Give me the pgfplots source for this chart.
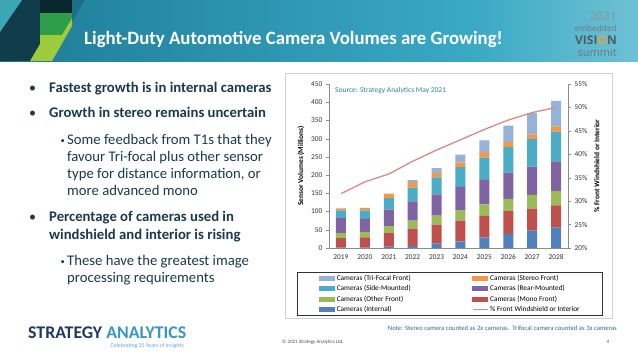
\documentclass[border=0pt]{standalone}
\usepackage{pgfplots}
\pgfplotsset{compat=1.18}
\usepackage{pgfplotstable}
\usepackage{fontspec}
\setmainfont{Carlito}
\setsansfont{Carlito}
\newfontfamily\logofont{Open Sans}

\definecolor{cInt}{HTML}{4F81BD}
\definecolor{cMono}{HTML}{C0504D}
\definecolor{cOther}{HTML}{9BBB59}
\definecolor{cRear}{HTML}{8064A2}
\definecolor{cSide}{HTML}{4BACC6}
\definecolor{cStereo}{HTML}{F79646}
\definecolor{cTri}{HTML}{95B3D7}
\definecolor{cLine}{HTML}{D48C8A}
\definecolor{txt}{HTML}{1B3A4B}
\definecolor{hA}{HTML}{175D75}
\definecolor{hB}{HTML}{1E7C98}
\definecolor{hC}{HTML}{3AA9C4}
\definecolor{hD}{HTML}{D3EEF4}
\definecolor{cDark}{HTML}{113C4A}
\definecolor{cCyan}{HTML}{3AA6B6}
\definecolor{cBlack}{HTML}{0B272E}
\definecolor{cGreen}{HTML}{2E9E4A}
\definecolor{cLime}{HTML}{9CCB3B}
\definecolor{cTeal}{HTML}{1E6E84}
\definecolor{srcCol}{HTML}{31849B}
\definecolor{noteCol}{HTML}{2E6E80}
\definecolor{saNavy}{HTML}{1F3A5A}
\definecolor{saBlue}{HTML}{3A94C4}
\definecolor{logoGray}{HTML}{6B7A80}
\definecolor{logoDark}{HTML}{4F5C62}
\definecolor{logoO}{HTML}{E8A23A}

\pgfdeclarehorizontalshading{hdr}{100bp}{color(0bp)=(hA); color(25bp)=(hB); color(62bp)=(hC); color(100bp)=(hD)}

\pgfplotstableread{
x int mono other rear side stereo tri pct
0 1 26 14 41 21 6 0 31.6
1 1 28 15 36 23 7 0 34.1
2 4 37 19 45 32 12 0 35.8
3 6 47 22 53 38 15 5 38.5
4 12 52 25 58 47 12 13 40.9
5 18 57 29 64 54 13 21 43.1
6 29 59 32 67 61 15 32 45.3
7 39 62 34 72 70 14 45 47.3
8 48 60 38 77 76 13 58 48.9
9 56 61 39 82 81 15 70 50.0
}\data

\begin{document}
\begin{tikzpicture}[x=1pt,y=-1pt]
\fill[white] (0,0) rectangle (638,359);
% header
\shade[shading=hdr] (0,0) rectangle (638,61);
\fill[cDark] (0,0) -- (84,0) -- (50,61) -- (0,61) -- cycle;
\fill[cCyan] (0,0) -- (22,0) -- (0,32) -- cycle;
\fill[cBlack] (40,0) -- (72,0) -- (72,13) -- (40,13) -- cycle;
\fill[cGreen] (40,13) -- (72,13) -- (72,18) -- (62,35) -- (40,35) -- cycle;
\fill[cLime] (62,35) -- (72,18) -- (72,26) -- (52,61) -- (30,61) -- (40,44) -- (40,35) -- cycle;
\fill[cTeal] (72,0) -- (84,0) -- (72,22) -- cycle;
\node[anchor=base west, text=white, font=\bfseries\fontsize{18.8}{19}\selectfont, inner sep=0] at (84,44) {Light-Duty Automotive Camera Volumes are Growing!};
% logo
\node[anchor=base east, text=logoGray!80, font=\logofont\fontsize{12}{12}\selectfont, inner sep=0] at (617,20) {2021};
\node[anchor=base east, text=logoGray, font=\logofont\fontsize{8.3}{8}\selectfont, inner sep=0] at (617,31) {embedded};
\node[anchor=base east, text=logoDark, font=\logofont\bfseries\fontsize{12}{12}\selectfont, inner sep=0] at (617,44) {VISI{\color{logoO}O}N};
\node[anchor=base east, text=logoGray, font=\logofont\fontsize{11}{11}\selectfont, inner sep=0] at (617,56) {summit};

% bullets
\begin{scope}[every node/.style={anchor=base west, inner sep=0, text=txt}]
\node[font=\fontsize{14}{14}\selectfont] at (29,92) {\textbullet};
\node[font=\bfseries\fontsize{14.7}{14}\selectfont] at (49,92) {Fastest growth is in internal cameras};
\node[font=\fontsize{14}{14}\selectfont] at (29,117) {\textbullet};
\node[font=\bfseries\fontsize{14.7}{14}\selectfont] at (49,117) {Growth in stereo remains uncertain};
\node[font=\fontsize{8.5}{9}\selectfont] at (60.5,143) {\textbullet};
\node[font=\fontsize{14.7}{14}\selectfont] at (67,144) {Some feedback from T1s that they};
\node[font=\fontsize{14.7}{14}\selectfont] at (67,161) {favour Tri-focal plus other sensor};
\node[font=\fontsize{14.7}{14}\selectfont] at (67,178) {type for distance information, or};
\node[font=\fontsize{14.7}{14}\selectfont] at (67,195) {more advanced mono};
\node[font=\fontsize{14}{14}\selectfont] at (29,221) {\textbullet};
\node[font=\bfseries\fontsize{14.7}{14}\selectfont] at (49,221) {Percentage of cameras used in};
\node[font=\bfseries\fontsize{14.7}{14}\selectfont] at (49,239) {windshield and interior is rising};
\node[font=\fontsize{8.5}{9}\selectfont] at (60.5,264) {\textbullet};
\node[font=\fontsize{14.7}{14}\selectfont] at (67,265) {These have the greatest image};
\node[font=\fontsize{14.7}{14}\selectfont] at (67,282) {processing requirements};
\end{scope}

% bottom logo
\node[anchor=base west, inner sep=0, font=\bfseries\fontsize{17.8}{18}\selectfont] at (28,338) {\textcolor{saNavy}{STRATEGY} \textcolor{saBlue}{ANALYTICS}};
\node[anchor=base east, inner sep=0, text=saBlue!80, font=\fontsize{5.8}{6}\selectfont] at (184,347) {Celebrating 25 Years of Insights};

% chart frame
\draw[black!18, line width=0.8pt, fill=white] (285,73) rectangle (612,318);

\begin{axis}[
 at={(329pt,-248pt)}, anchor=south west,
 scale only axis, width=239pt, height=164pt,
 xmin=-0.5, xmax=9.5, ymin=0, ymax=450,
 ybar stacked, bar width=10pt,
 xtick={0,...,9}, xticklabels={2019,2020,2021,2022,2023,2024,2025,2026,2027,2028},
 ytick={0,50,...,450},
 axis x line*=bottom, axis y line*=left,
 axis line style={draw=black!45},
 xtick style={draw=none},
 ytick style={draw=black!45},
 tick align=outside, major tick length=3pt,
 tick label style={font=\fontsize{7.4}{8}\selectfont, text=black!80},
 /pgf/number format/assume math mode=true,
 ylabel={Sensor Volumes (Millions)},
 ylabel style={font=\bfseries\fontsize{7.4}{8}\selectfont},
 every axis plot/.append style={draw=none},
 clip=false,
]
\addplot[fill=cInt] table[x=x,y=int]{\data};
\addplot[fill=cMono] table[x=x,y=mono]{\data};
\addplot[fill=cOther] table[x=x,y=other]{\data};
\addplot[fill=cRear] table[x=x,y=rear]{\data};
\addplot[fill=cSide] table[x=x,y=side]{\data};
\addplot[fill=cStereo] table[x=x,y=stereo]{\data};
\addplot[fill=cTri] table[x=x,y=tri]{\data};
\node[anchor=west, text=srcCol, font=\fontsize{7.5}{8}\selectfont, inner sep=0] at (rel axis cs:0.025,0.959) {Source: Strategy Analytics May 2021};
\end{axis}

\begin{axis}[
 at={(329pt,-248pt)}, anchor=south west,
 scale only axis, width=239pt, height=164pt,
 xmin=-0.5, xmax=9.5, ymin=20, ymax=55,
 axis x line=none, axis y line*=right,
 axis line style={draw=black!45},
 ytick={20,25,...,55},
 /pgf/number format/assume math mode=true,
 yticklabel={\pgfmathprintnumber{\tick}\%},
 yticklabel pos=right,
 ytick style={draw=black!45},
 tick align=outside, major tick length=3pt,
 tick label style={font=\fontsize{7.4}{8}\selectfont, text=black!80},
 ylabel={\% Front Windshield or Interior},
 ylabel near ticks,
 ylabel style={font=\bfseries\fontsize{7.4}{8}\selectfont},
 legend columns=2,
 legend cell align=left,
 legend style={at={(0.506,-0.146)}, anchor=north, draw=black!80, line width=0.8pt,
   font=\fontsize{7.3}{8}\selectfont, inner xsep=22pt, inner ysep=1.5pt, row sep=1.1pt,
   nodes={inner sep=1pt, text height=5.5pt, text depth=1.8pt},
   /tikz/column 1/.style={column sep=1pt},
   /tikz/column 2/.style={column sep=60pt},
   /tikz/column 3/.style={column sep=1pt}},
 clip=false,
]
\addlegendimage{legend image code/.code={\fill[cTri] (0pt,-2pt) rectangle (15pt,2pt);}}
\addlegendentry{Cameras (Tri-Focal Front)}
\addlegendimage{legend image code/.code={\fill[cStereo] (0pt,-2pt) rectangle (15pt,2pt);}}
\addlegendentry{Cameras (Stereo Front)}
\addlegendimage{legend image code/.code={\fill[cSide] (0pt,-2pt) rectangle (15pt,2pt);}}
\addlegendentry{Cameras (Side-Mounted)}
\addlegendimage{legend image code/.code={\fill[cRear] (0pt,-2pt) rectangle (15pt,2pt);}}
\addlegendentry{Cameras (Rear-Mounted)}
\addlegendimage{legend image code/.code={\fill[cOther] (0pt,-2pt) rectangle (15pt,2pt);}}
\addlegendentry{Cameras (Other Front)}
\addlegendimage{legend image code/.code={\fill[cMono] (0pt,-2pt) rectangle (15pt,2pt);}}
\addlegendentry{Cameras (Mono Front)}
\addlegendimage{legend image code/.code={\fill[cInt] (0pt,-2pt) rectangle (15pt,2pt);}}
\addlegendentry{Cameras (Internal)}
\addplot[color=cLine, line width=1.3pt, mark=none, legend image code/.code={\draw[cLine, line width=1.3pt] (0pt,0pt) -- (15pt,0pt);}] table[x=x,y=pct]{\data};
\addlegendentry{\% Front Windshield or Interior}
\end{axis}

% note and footer
\node[anchor=base east, inner sep=0, text=noteCol, font=\fontsize{6.7}{7}\selectfont] at (617,330) {Note: Stereo camera counted as 2x cameras.\ \ Trifocal camera counted as 3x cameras};
\node[anchor=base west, inner sep=0, text=black!70, font=\fontsize{5}{6}\selectfont] at (282,343) {© 2021 Strategy Analytics Ltd.};
\node[anchor=base, inner sep=0, text=black!70, font=\fontsize{5}{6}\selectfont] at (608,343) {4};
\end{tikzpicture}
\end{document}
